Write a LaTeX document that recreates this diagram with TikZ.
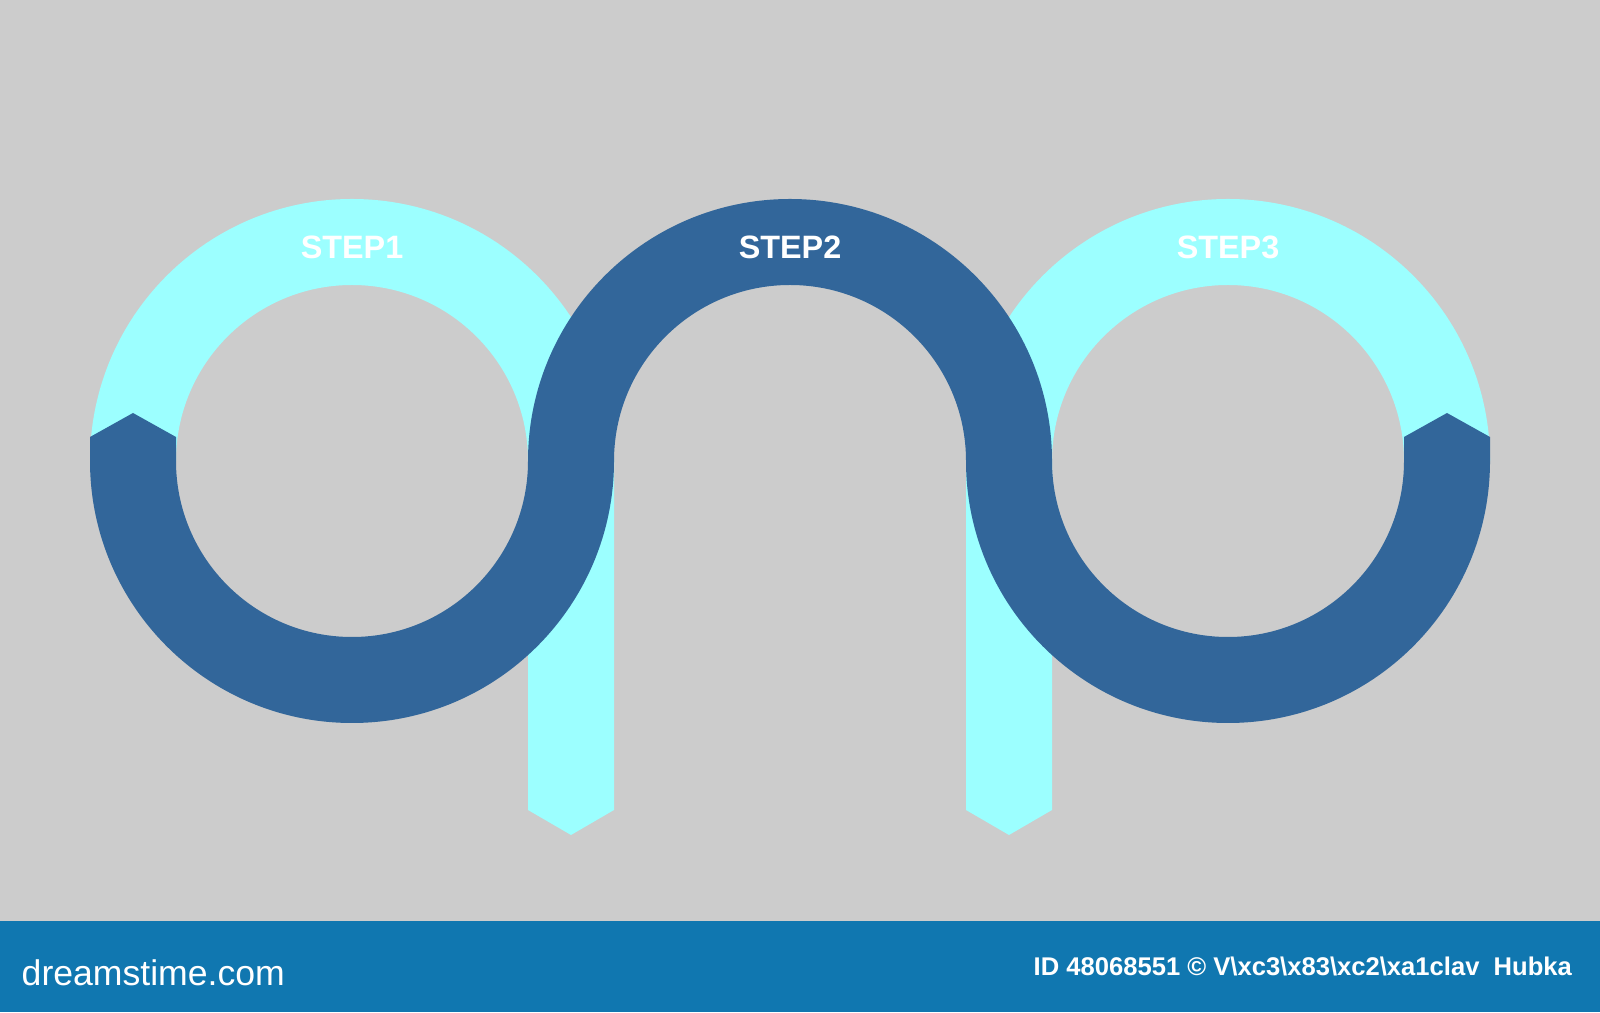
\documentclass[tikz,border=0pt]{standalone}
\usepackage{fontspec}
\setmainfont{Liberation Sans}
\usepackage{graphicx}
\definecolor{bgc}{RGB}{204,204,204}
\definecolor{lightc}{RGB}{156,255,255}
\definecolor{darkc}{RGB}{50,102,154}
\definecolor{barc}{RGB}{16,119,176}
\tikzset{
  steplabel/.style={text=white,font=\bfseries\fontsize{9.2pt}{11pt}\selectfont,inner sep=0pt,anchor=center},
  bartext/.style={text=white,inner sep=0pt,anchor=base west}
}
\begin{document}
\begin{tikzpicture}[x=0.01cm,y=0.01cm]
\useasboundingbox (0,0) rectangle (1600,1012);
\fill[bgc] (0,0) rectangle (1600,1012);
% light band 1: left ring upper half + vertical strip
\fill[lightc] (90,551) arc[start angle=180,end angle=0,radius=262]
  -- (614,202) -- (571,177) -- (528,202) -- (528,551)
  arc[start angle=0,end angle=180,radius=176] -- cycle;
% light band 2: vertical strip + right ring upper half
\fill[lightc] (966,551) arc[start angle=180,end angle=0,radius=262]
  -- (1404,551) arc[start angle=0,end angle=180,radius=176]
  -- (1052,202) -- (1009,177) -- (966,202) -- cycle;
% dark band
\fill[darkc] (90,575) -- (133,599) -- (176,575) -- (176,551)
  arc[start angle=180,end angle=360,radius=176]
  arc[start angle=180,end angle=0,radius=262]
  arc[start angle=180,end angle=360,radius=176]
  -- (1404,575) -- (1447,599) -- (1490,575) -- (1490,551)
  arc[start angle=0,end angle=-180,radius=262]
  arc[start angle=0,end angle=180,radius=176]
  arc[start angle=0,end angle=-180,radius=262] -- cycle;
% labels
\node[steplabel] (s1) at (352,765) {STEP1};
\node[steplabel] (s2) at (790,765) {STEP2};
\node[steplabel] (s3) at (1228,765) {STEP3};
% footer bar
\fill[barc] (0,0) rectangle (1600,91);
\node[bartext] (logo) at (21,27) {\resizebox{2.63cm}{!}{dreamstime.com}};
\node[bartext] (credit) at (1033,37) {\resizebox{5.38cm}{!}{\bfseries ID 48068551 © V\textbackslash xc3\textbackslash x83\textbackslash xc2\textbackslash xa1clav~~Hubka}};
\end{tikzpicture}
\end{document}
